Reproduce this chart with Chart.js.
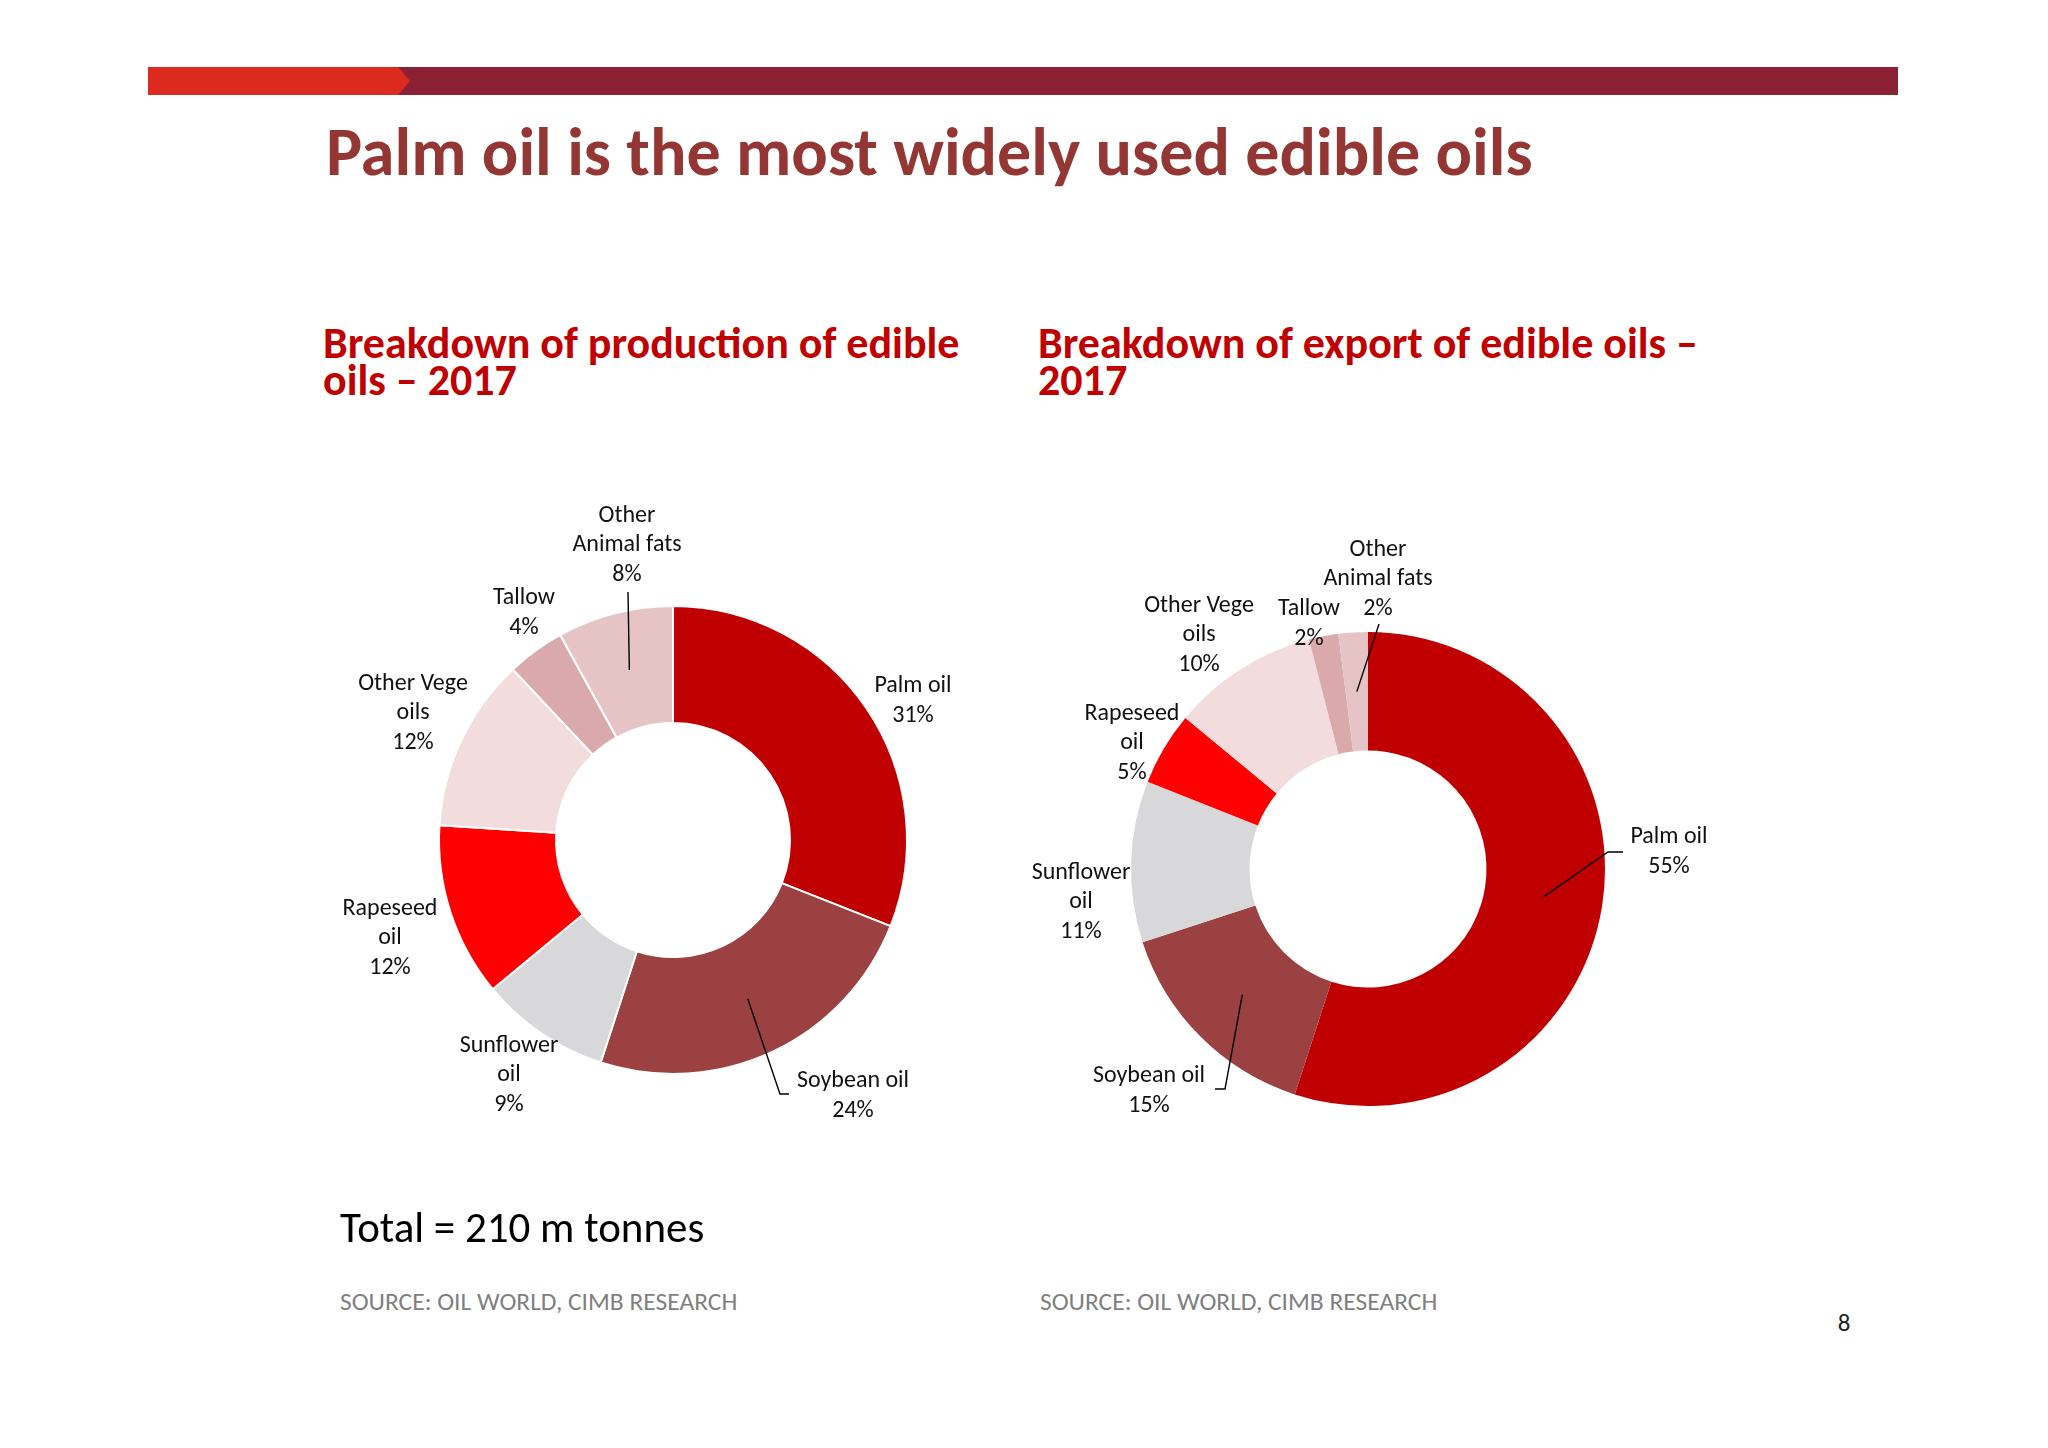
<!DOCTYPE html>
<html>
<head>
<meta charset="utf-8">
<script src="https://cdn.jsdelivr.net/npm/chart.js@4/dist/chart.umd.min.js"></script>
<style>
  html, body { margin: 0; padding: 0; background: #fff; }
  body { width: 2048px; height: 1448px; position: relative; overflow: hidden; font-family: Carlito, Lato, "Open Sans", sans-serif; }
  .txt { position: absolute; white-space: pre; }
  canvas { position: absolute; }
</style>
</head>
<body>
<div style="position:absolute;left:148px;top:67px;width:1750px;height:28px;background:#8b2034;"></div>
<div style="position:absolute;left:148px;top:67px;width:262px;height:28px;background:#dc2a1f;clip-path:polygon(0 0,250px 0,262px 14px,250px 28px,0 28px);"></div>

<canvas id="prodChart" width="760" height="760" style="left:293px;top:460px;"></canvas>
<canvas id="exportChart" width="760" height="760" style="left:988px;top:489px;"></canvas>

<script>
const categories = ["Palm oil", "Soybean oil", "Sunflower oil", "Rapeseed oil", "Other Vege oils", "Tallow", "Other Animal fats"];
const productionShare = [31, 24, 9, 12, 12, 4, 8];
const exportShare = [55, 15, 11, 5, 10, 2, 2];

const sliceColors = ["#c00000", "#9b4141", "#d8d7d9", "#ff0000", "#f2dcdd", "#d9a9ac", "#e6c4c5"];
const labelLines = [["Palm oil"], ["Soybean oil"], ["Sunflower", "oil"], ["Rapeseed", "oil"], ["Other Vege", "oils"], ["Tallow"], ["Other", "Animal fats"]];

// label block centres and leader lines, px relative to the doughnut centre
const prodLayout = [
  { pos: [240, -139] },
  { pos: [180, 256], leader: [[107, 254], [116, 254]] },
  { pos: [-164, 235] },
  { pos: [-283, 98] },
  { pos: [-260, -127] },
  { pos: [-149, -227] },
  { pos: [-46, -295], leader: [[-45, -248]] }
];
const exportLayout = [
  { pos: [301, -17], leader: [[240, -17], [255, -17]] },
  { pos: [-219, 222], leader: [[-143, 220], [-153, 220]] },
  { pos: [-287, 33] },
  { pos: [-236, -126] },
  { pos: [-169, -234] },
  { pos: [-59, -245] },
  { pos: [10, -290], leader: [[11, -245]] }
];

const FONT = 'Carlito, Lato, "Open Sans", sans-serif';

const calloutPlugin = {
  id: "callouts",
  afterDatasetsDraw(chart, args, opts) {
    const meta = chart.getDatasetMeta(0);
    const values = chart.data.datasets[0].data;
    const ctx = chart.ctx;
    const cx = meta.data[0].x, cy = meta.data[0].y;
    ctx.save();
    ctx.font = "24px " + FONT;
    ctx.fillStyle = "#111";
    ctx.strokeStyle = "#000";
    ctx.lineWidth = 1.4;
    ctx.textAlign = "center";
    ctx.textBaseline = "middle";
    meta.data.forEach((arc, i) => {
      const lay = opts.layout[i];
      if (lay.leader) {
        const p = arc.tooltipPosition();
        ctx.beginPath();
        ctx.moveTo(p.x, p.y);
        lay.leader.forEach(pt => ctx.lineTo(cx + pt[0], cy + pt[1]));
        ctx.stroke();
      }
      const lines = labelLines[i].concat([values[i] + "%"]);
      const lh = 29.5;
      const top = cy + lay.pos[1] - (lines.length - 1) * lh / 2;
      lines.forEach((t, k) => ctx.fillText(t, cx + lay.pos[0], top + k * lh));
    });
    ctx.restore();
  }
};

function makeDonut(id, values, radius, border, layout) {
  const pad = 380 - radius;
  return new Chart(document.getElementById(id), {
    type: "doughnut",
    data: {
      labels: categories,
      datasets: [{
        data: values,
        backgroundColor: sliceColors,
        borderColor: "#ffffff",
        borderWidth: border
      }]
    },
    options: {
      responsive: false,
      animation: false,
      events: [],
      cutout: "50%",
      layout: { padding: pad },
      plugins: {
        legend: { display: false },
        tooltip: { enabled: false },
        callouts: { layout: layout }
      }
    },
    plugins: [calloutPlugin]
  });
}

makeDonut("prodChart", productionShare, 235, 2, prodLayout);
makeDonut("exportChart", exportShare, 237, 0, exportLayout);

// page texts, placed by baseline
const measure = document.createElement("canvas").getContext("2d");
function addText(text, x, baseline, size, opts) {
  opts = opts || {};
  const weight = opts.bold ? "bold " : "";
  const lh = opts.lh || Math.round(size * 1.2);
  measure.font = weight + size + "px " + FONT;
  const m = measure.measureText("Hg");
  const asc = m.fontBoundingBoxAscent, desc = m.fontBoundingBoxDescent;
  const el = document.createElement("div");
  el.className = "txt";
  el.textContent = text;
  el.style.font = weight + size + "px " + FONT;
  el.style.lineHeight = lh + "px";
  el.style.color = opts.color || "#000";
  el.style.top = (baseline - (lh - asc - desc) / 2 - asc) + "px";
  if (opts.center) {
    el.style.left = (x - 200) + "px";
    el.style.width = "400px";
    el.style.textAlign = "center";
  } else {
    el.style.left = x + "px";
  }
  document.body.appendChild(el);
}

addText("Palm oil is the most widely used edible oils", 326, 175, 68, { bold: true, color: "#943634" });
addText("Breakdown of production of edible\noils \u2013 2017", 323, 358, 44, { bold: true, color: "#c00000", lh: 37 });
addText("Breakdown of export of edible oils \u2013\n2017", 1038, 358, 44, { bold: true, color: "#c00000", lh: 37 });
addText("Total = 210 m tonnes", 340, 1242, 43, { color: "#000" });
addText("SOURCE: OIL WORLD, CIMB RESEARCH", 340, 1310, 25.5, { color: "#7f7f7f" });
addText("SOURCE: OIL WORLD, CIMB RESEARCH", 1040, 1310, 25.5, { color: "#7f7f7f" });
addText("8", 1844, 1331, 25, { color: "#222", center: true });
</script>
</body>
</html>
